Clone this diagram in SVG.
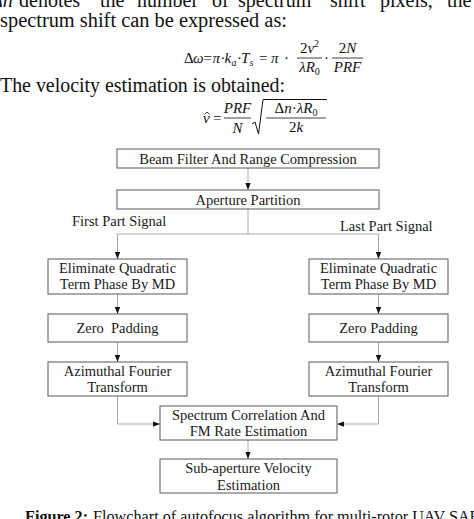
<svg xmlns="http://www.w3.org/2000/svg" width="474" height="519" viewBox="0 0 474 519">
<style>
.body{font-family:"Liberation Serif","Times New Roman",serif;font-size:20px;fill:#111}
.m{font-family:"Liberation Serif","Times New Roman",serif;font-size:15px;fill:#111;font-style:italic}
.u{font-style:normal}
.sub{font-size:10px}
.f{font-family:"Liberation Serif","Times New Roman",serif;font-size:14.5px;fill:#1a1a1a}
.c{text-anchor:middle}
.box{fill:#fff;stroke:#666;stroke-width:1.1}
.ln{fill:none;stroke:#a8a8a8;stroke-width:1}
.bar{stroke:#111;stroke-width:0.8}
.cap{font-family:"Liberation Serif","Times New Roman",serif;font-size:16.2px;fill:#111}
</style>
<defs>
<marker id="ah" viewBox="0 0 8 6" refX="8" refY="3" markerWidth="7" markerHeight="5.5" markerUnits="userSpaceOnUse" orient="auto">
<path d="M0,0 L8,3 L0,6 z" fill="#111"/>
</marker>
</defs>
<rect width="474" height="519" fill="#fff"/>

<g id="text-top">
<text class="body" y="7"><tspan x="-9" font-style="italic">Δn</tspan><tspan x="19">denotes</tspan><tspan x="100">the</tspan><tspan x="137">number</tspan><tspan x="212">of</tspan><tspan x="238">spectrum</tspan><tspan x="330">shift</tspan><tspan x="380">pixels,</tspan><tspan x="447">the</tspan><tspan x="474">ac</tspan></text>
<text class="body" x="0" y="27" textLength="287" lengthAdjust="spacingAndGlyphs">spectrum shift can be expressed as:</text>
<text class="body" x="0" y="92" textLength="285" lengthAdjust="spacingAndGlyphs">The velocity estimation is obtained:</text>
</g>

<g id="formula1">
<text class="m" y="63"><tspan x="184" class="u">Δ</tspan><tspan x="193">ω</tspan><tspan x="203.5" class="u">=</tspan><tspan x="212.5">π</tspan><tspan x="220.5" class="u">·</tspan><tspan x="224.5">k</tspan><tspan x="231.5" dy="3" class="sub">a</tspan><tspan x="237" dy="-3" class="u">·</tspan><tspan x="241">T</tspan><tspan x="249.5" dy="3" class="sub">s</tspan><tspan x="259" dy="-3" class="u">=</tspan><tspan x="271">π</tspan><tspan x="284" class="u">·</tspan><tspan x="324" class="u">·</tspan></text>
<line class="bar" x1="297" y1="58" x2="322" y2="58"/>
<text class="m c" x="309.5" y="53"><tspan class="u">2</tspan>v<tspan class="sub u" dy="-6">2</tspan></text>
<text class="m c" x="309.5" y="72">λR<tspan class="sub u" dy="3">0</tspan></text>
<line class="bar" x1="332" y1="58" x2="363" y2="58"/>
<text class="m c" x="347.5" y="53"><tspan class="u">2</tspan>N</text>
<text class="m c" x="347.5" y="72">PRF</text>
</g>

<g id="formula2">
<text class="m" x="203" y="123">v</text>
<path d="M204.5,114.5 L207,112 L209.5,114.5" fill="none" stroke="#111" stroke-width="0.8"/>
<text class="m u" x="213" y="123">=</text>
<line class="bar" x1="224" y1="118" x2="251" y2="118"/>
<text class="m c" x="237.5" y="113">PRF</text>
<text class="m c" x="237.5" y="133">N</text>
<path d="M252,124 L255,122 L258.5,134 L263,99.5 L327,99.5" fill="none" stroke="#111" stroke-width="1"/>
<line class="bar" x1="266" y1="118" x2="326" y2="118"/>
<text class="m c" x="296" y="113"><tspan class="u">Δ</tspan>n<tspan class="u">·</tspan>λR<tspan class="sub u" dy="3">0</tspan></text>
<text class="m c" x="296" y="132"><tspan class="u">2</tspan>k</text>
</g>

<g id="connectors">
<line class="ln" x1="248" y1="168" x2="248" y2="190" marker-end="url(#ah)"/>
<polyline class="ln" points="248,209 248,234"/>
<polyline class="ln" points="117,234 379,234"/>
<line class="ln" x1="117.5" y1="234" x2="117.5" y2="259" marker-end="url(#ah)"/>
<line class="ln" x1="378.5" y1="234" x2="378.5" y2="259" marker-end="url(#ah)"/>
<line class="ln" x1="117.5" y1="294" x2="117.5" y2="314" marker-end="url(#ah)"/>
<line class="ln" x1="378.5" y1="294" x2="378.5" y2="314" marker-end="url(#ah)"/>
<line class="ln" x1="117.5" y1="342" x2="117.5" y2="362" marker-end="url(#ah)"/>
<line class="ln" x1="378.5" y1="342" x2="378.5" y2="362" marker-end="url(#ah)"/>
<polyline class="ln" points="117.5,396 117.5,424 160,424" marker-end="url(#ah)"/>
<polyline class="ln" points="378.5,396 378.5,424 337,424" marker-end="url(#ah)"/>
<line class="ln" x1="248" y1="440" x2="248" y2="459" marker-end="url(#ah)"/>
<text class="f" x="72" y="226">First Part Signal</text>
<text class="f" x="340" y="231">Last Part Signal</text>
</g>

<g id="beam">
<rect class="box" x="117" y="149" width="262" height="19"/>
<text class="f c" x="248" y="164">Beam Filter And Range Compression</text>
</g>
<g id="aperture">
<rect class="box" x="117" y="190" width="262" height="19"/>
<text class="f c" x="248" y="205">Aperture Partition</text>
</g>
<g id="elim-left">
<rect class="box" x="48" y="259" width="139" height="35"/>
<text class="f c" x="117.5" y="273">Eliminate Quadratic</text>
<text class="f c" x="117.5" y="289">Term Phase By MD</text>
</g>
<g id="elim-right">
<rect class="box" x="309" y="259" width="139" height="35"/>
<text class="f c" x="378.5" y="273">Eliminate Quadratic</text>
<text class="f c" x="378.5" y="289">Term Phase By MD</text>
</g>
<g id="zero-left">
<rect class="box" x="48" y="314" width="139" height="28"/>
<text class="f c" x="117.5" y="333" xml:space="preserve">Zero  Padding</text>
</g>
<g id="zero-right">
<rect class="box" x="309" y="314" width="139" height="28"/>
<text class="f c" x="378.5" y="333">Zero Padding</text>
</g>
<g id="fft-left">
<rect class="box" x="48" y="362" width="139" height="34"/>
<text class="f c" x="117.5" y="376">Azimuthal Fourier</text>
<text class="f c" x="117.5" y="392">Transform</text>
</g>
<g id="fft-right">
<rect class="box" x="309" y="362" width="139" height="34"/>
<text class="f c" x="378.5" y="376">Azimuthal Fourier</text>
<text class="f c" x="378.5" y="392">Transform</text>
</g>
<g id="spectrum">
<rect class="box" x="160" y="406" width="177" height="34"/>
<text class="f c" x="248.5" y="420">Spectrum Correlation And</text>
<text class="f c" x="248.5" y="436">FM Rate Estimation</text>
</g>
<g id="velocity">
<rect class="box" x="160" y="459" width="177" height="34"/>
<text class="f c" x="248.5" y="473">Sub-aperture Velocity</text>
<text class="f c" x="248.5" y="490">Estimation</text>
</g>

<g id="caption">
<text class="cap" y="522"><tspan x="25" font-weight="bold">Figure 2:</tspan><tspan x="93">Flowchart of autofocus algorithm for multi-rotor UAV SAR</tspan></text>
</g>
</svg>
